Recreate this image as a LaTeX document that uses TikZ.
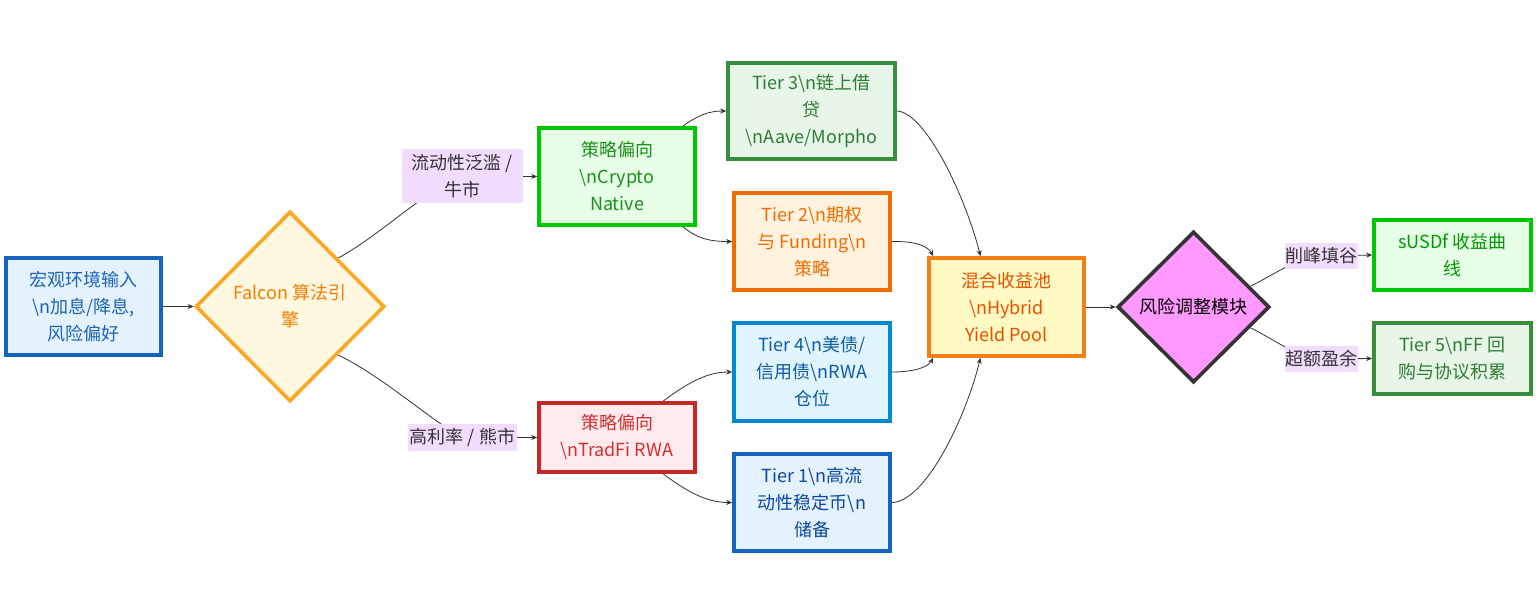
\documentclass[tikz,border=0pt]{standalone}
\usepackage{fontspec}
\setmainfont{Noto Sans CJK SC}
\usetikzlibrary{shapes.geometric,arrows.meta}
\newcommand\myfs{\fontsize{18}{27}\selectfont}
\definecolor{edgec}{HTML}{333333}
\definecolor{lblfill}{HTML}{F2DCFF}
\definecolor{lbltext}{HTML}{333333}
\definecolor{macfill}{HTML}{E3F2FD}\definecolor{macdraw}{HTML}{1565C0}\definecolor{mactext}{HTML}{1E63B8}
\definecolor{falfill}{HTML}{FFF8E1}\definecolor{faldraw}{HTML}{F9A825}\definecolor{faltext}{HTML}{F57C00}
\definecolor{crfill}{HTML}{E6FFE6}\definecolor{crdraw}{HTML}{00C800}\definecolor{crtext}{HTML}{1A8F1A}
\definecolor{tgfill}{HTML}{E8F5E9}\definecolor{tgdraw}{HTML}{388E3C}\definecolor{tgtext}{HTML}{2E7D32}
\definecolor{t2fill}{HTML}{FFF3E0}\definecolor{t2draw}{HTML}{EF6C00}\definecolor{t2text}{HTML}{EF6C00}
\definecolor{trfill}{HTML}{FFEBEE}\definecolor{trdraw}{HTML}{C62828}\definecolor{trtext}{HTML}{D32F2F}
\definecolor{t4fill}{HTML}{E1F5FE}\definecolor{t4draw}{HTML}{0288D1}\definecolor{t4text}{HTML}{0D5AA7}
\definecolor{t1fill}{HTML}{E3F2FD}\definecolor{t1draw}{HTML}{1565C0}\definecolor{t1text}{HTML}{0D47A1}
\definecolor{hyfill}{HTML}{FFF9C4}\definecolor{hydraw}{HTML}{F57F17}\definecolor{hytext}{HTML}{E65100}
\definecolor{rkfill}{HTML}{FF99FF}\definecolor{rkdraw}{HTML}{333333}
\definecolor{sufill}{HTML}{E6FFE6}\definecolor{sudraw}{HTML}{00C800}\definecolor{sutext}{HTML}{009900}
\pgfdeclarelayer{bgfill}
\pgfdeclarelayer{edges}
\pgfsetlayers{bgfill,edges,main}
\tikzset{
  box/.style={rectangle, draw, line width=3.6pt, inner sep=0pt, align=center, font=\myfs},
  dia/.style={diamond, aspect=1, draw, line width=3.6pt, inner sep=0pt, align=center, font=\myfs},
  lbl/.style={rectangle, fill=lblfill, text=lbltext, inner sep=0pt, align=center, font=\myfs},
  edge/.style={draw=edgec, line width=0.8pt, -{Stealth[length=6pt,width=5pt]}},
}
\begin{document}
\begin{tikzpicture}[x=1pt,y=-1pt]
\useasboundingbox (0,0) rectangle (1536,614);
\begin{pgfonlayer}{bgfill}
\fill[white] (0,0) rectangle (1536,614);
\end{pgfonlayer}

\node[box, fill=macfill, draw=macdraw, text=mactext, minimum width=155pt, minimum height=97pt] (macro) at (83.5,306.5) {宏观环境输入\\\textbackslash n加息/降息,\\风险偏好};
\node[dia, fill=falfill, draw=faldraw, text=faltext, minimum width=189pt, minimum height=190pt] (falcon) at (290,306.5) {Falcon 算法引\\擎};

\node[lbl, minimum width=121pt, minimum height=54pt] (l1) at (462.5,176) {流动性泛滥 /\\牛市};
\node[lbl, minimum width=109pt, minimum height=27pt] (l2) at (462.5,437.5) {高利率 / 熊市};

\node[box, fill=crfill, draw=crdraw, text=crtext, minimum width=156pt, minimum height=97pt] (crypto) at (617,176.5) {策略偏向\\\textbackslash nCrypto\\Native};
\node[box, fill=trfill, draw=trdraw, text=trtext, minimum width=156pt, minimum height=69pt] (tradfi) at (617,437.5) {策略偏向\\\textbackslash nTradFi RWA};

\node[box, fill=tgfill, draw=tgdraw, text=tgtext, minimum width=167pt, minimum height=96pt] (tier3) at (811.5,111) {Tier 3\textbackslash n链上借\\贷\\\textbackslash nAave/Morpho};
\node[box, fill=t2fill, draw=t2draw, text=t2text, minimum width=156pt, minimum height=97pt] (tier2) at (812,241.5) {Tier 2\textbackslash n期权\\与 Funding\textbackslash n\\策略};
\node[box, fill=t4fill, draw=t4draw, text=t4text, minimum width=156pt, minimum height=98pt] (tier4) at (812,372) {Tier 4\textbackslash n美债/\\信用债\textbackslash nRWA\\仓位};
\node[box, fill=t1fill, draw=t1draw, text=t1text, minimum width=156pt, minimum height=97pt] (tier1) at (812,502.5) {Tier 1\textbackslash n高流\\动性稳定币\textbackslash n\\储备};

\node[box, fill=hyfill, draw=hydraw, text=hytext, minimum width=155pt, minimum height=98pt] (hybrid) at (1006.5,307) {混合收益池\\\textbackslash nHybrid\\Yield Pool};
\node[dia, fill=rkfill, draw=rkdraw, text=black, minimum width=152pt, minimum height=151pt] (risk) at (1193.5,307) {风险调整模块};

\node[lbl, minimum width=73pt, minimum height=26pt] (l3) at (1321.5,256) {削峰填谷};
\node[lbl, minimum width=73pt, minimum height=26pt] (l4) at (1321.5,359) {超额盈余};

\node[box, fill=sufill, draw=sudraw, text=sutext, minimum width=157pt, minimum height=70pt] (susdf) at (1452.5,255) {sUSDf 收益曲\\线};
\node[box, fill=tgfill, draw=tgdraw, text=tgtext, minimum width=157pt, minimum height=71pt] (tier5) at (1452.5,358.5) {Tier 5\textbackslash nFF 回\\购与协议积累};

\begin{pgfonlayer}{edges}
\draw[edge] (macro.east) -- (falcon.west);
\draw[edge] (falcon.north east) .. controls (382,234) and (425,190) .. (l1.center) -- (crypto.west);
\draw[edge] (falcon.south east) .. controls (385,378) and (430,420) .. (l2.center) -- (tradfi.west);
\draw[edge] ([xshift=-14pt]crypto.north east) .. controls (697,116) and (708,111) .. (tier3.west);
\draw[edge] ([xshift=-14pt]crypto.south east) .. controls (697,238) and (708,241.5) .. (tier2.west);
\draw[edge] ([xshift=46pt]tradfi.north) .. controls (685,385) and (705,372) .. (tier4.west);
\draw[edge] ([xshift=46pt]tradfi.south) .. controls (685,490) and (705,502.5) .. (tier1.west);
\draw[edge] (tier3.east) .. controls (925,112) and (965,195) .. ([xshift=-26pt]hybrid.north);
\draw[edge] (tier2.east) .. controls (915,241) and (928,246) .. ([xshift=6pt]hybrid.north west);
\draw[edge] (tier4.east) .. controls (915,372) and (928,367) .. ([xshift=6pt]hybrid.south west);
\draw[edge] (tier1.east) .. controls (925,502) and (965,420) .. ([xshift=-26pt]hybrid.south);
\draw[edge] (hybrid.east) -- (risk.west);
\draw[edge] (risk.20) .. controls (1275,274) and (1300,256) .. (l3.center) -- (susdf.west);
\draw[edge] (risk.-20) .. controls (1275,340) and (1300,359) .. (l4.center) -- (tier5.west);
\end{pgfonlayer}
\end{tikzpicture}
\end{document}
